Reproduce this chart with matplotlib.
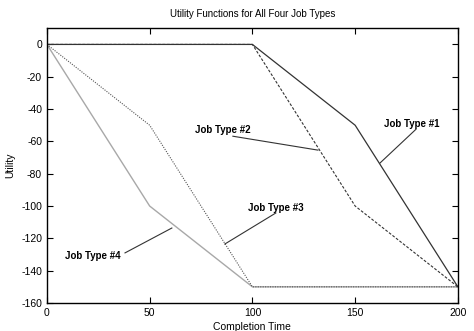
import matplotlib
matplotlib.use("Agg")
import matplotlib.pyplot as plt

plt.rcParams['font.family'] = ['Liberation Sans', 'DejaVu Sans']
plt.rcParams['axes.unicode_minus'] = False

x1 = [0, 100, 150, 200]
y1 = [0, 0, -50, -150]
x2 = [0, 100, 150, 200]
y2 = [0, 0, -100, -150]
x3 = [0, 50, 100, 200]
y3 = [0, -50, -150, -150]
x4 = [0, 50, 100, 200]
y4 = [0, -100, -150, -150]

labels = ["Job Type #1", "Job Type #2", "Job Type #3", "Job Type #4"]
label_pos = [(164, -49), (72, -53), (98, -101), (9, -131)]
label_anchor = [(179.6, -52.5), (90.5, -56.8), (111.4, -104.3), (38, -129)]
label_tip = [(162, -73.5), (131.9, -65.4), (86.6, -123.5), (60.8, -113.6)]

xticks = [0, 50, 100, 150, 200]
yticks = [0, -20, -40, -60, -80, -100, -120, -140, -160]

fig = plt.figure(figsize=(4.74, 3.31), dpi=100)
ax = fig.add_axes([0.099, 0.0846, 0.867, 0.83])

ax.plot(x4, y4, color='#a8a8a8', lw=1.0, ls='-')
ax.plot(x3, y3, color='#555555', lw=0.8, ls=(0, (1, 1.2)))
ax.plot(x2, y2, color='#333333', lw=0.8, ls=(0, (2.5, 1.5)))
ax.plot(x1, y1, color='#333333', lw=0.9, ls='-')

for lab, p, a, t in zip(labels, label_pos, label_anchor, label_tip):
    ax.text(p[0], p[1], lab, fontsize=7, fontweight='bold', va='center', ha='left')
    ax.plot([a[0], t[0]], [a[1], t[1]], color='#333333', lw=0.8)

ax.set_xlim(0, 200)
ax.set_ylim(-160, 10)
ax.set_xticks(xticks)
ax.set_yticks(yticks)
ax.tick_params(direction='in', top=True, right=True, labelsize=7.5, length=4, width=0.8)
for s in ax.spines.values():
    s.set_linewidth(1.0)
ax.set_title("Utility Functions for All Four Job Types", fontsize=7, pad=8)
ax.set_xlabel("Completion Time", fontsize=7.5, labelpad=3)
ax.set_ylabel("Utility", fontsize=7.5, labelpad=4)

fig.savefig("out.png", dpi=100)
